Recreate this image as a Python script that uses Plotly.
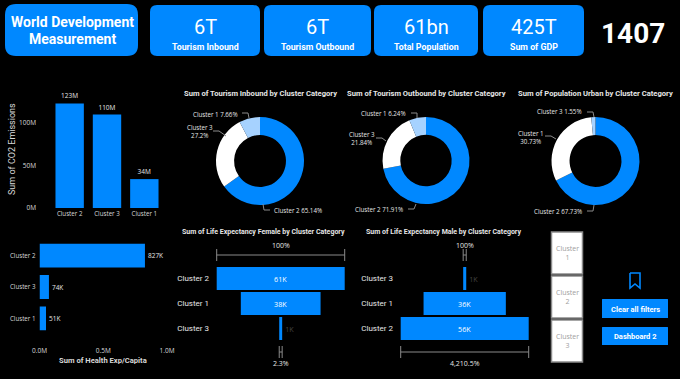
import plotly.graph_objects as go

W, H = 680, 379
BLUE = "#0088FF"
LIGHT = "#A6D2FF"
WHITE = "#FFFFFF"
FONT = "Roboto"
LBL = "Open Sans"

co2_cats = ["Cluster 2", "Cluster 3", "Cluster 1"]
co2_vals = [123, 110, 34]
co2_text = ["123M", "110M", "34M"]
health_cats = ["Cluster 2", "Cluster 3", "Cluster 1"]
health_vals = [0.827, 0.074, 0.051]
health_text = ["827K", "74K", "51K"]
inbound_cats = ["Cluster 2", "Cluster 3", "Cluster 1"]
inbound_vals = [65.14, 27.2, 7.66]
outbound_cats = ["Cluster 2", "Cluster 3", "Cluster 1"]
outbound_vals = [71.91, 21.84, 6.24]
urban_cats = ["Cluster 2", "Cluster 1", "Cluster 3"]
urban_vals = [67.73, 30.73, 1.55]
female_cats = ["Cluster 2", "Cluster 1", "Cluster 3"]
female_vals = [61, 38, 1.4]
female_text = ["61K", "38K", "1K"]
male_cats = ["Cluster 3", "Cluster 1", "Cluster 2"]
male_vals = [1.33, 36, 56]
male_text = ["1K", "36K", "56K"]
kpi_vals = ["6T", "6T", "61bn", "425T"]
kpi_names = ["Tourism Inbound", "Tourism Outbound", "Total Population", "Sum of GDP"]


def px(x):
    return x / W


def py(y):
    return 1 - y / H


def rrect(x0, y0, x1, y1, r, color):
    X0, X1, Y0, Y1 = px(x0), px(x1), py(y0), py(y1)
    rx, ry = r / W, r / H
    p = (f"M {X0+rx} {Y0} L {X1-rx} {Y0} Q {X1} {Y0} {X1} {Y0-ry} "
         f"L {X1} {Y1+ry} Q {X1} {Y1} {X1-rx} {Y1} L {X0+rx} {Y1} "
         f"Q {X0} {Y1} {X0} {Y1+ry} L {X0} {Y0-ry} Q {X0} {Y0} {X0+rx} {Y0} Z")
    return dict(type="path", path=p, xref="paper", yref="paper", fillcolor=color,
                line=dict(width=0), layer="below")


def poly(points, color="#8a8a8a", width=1):
    p = "M " + " L ".join(f"{px(a)} {py(b)}" for a, b in points)
    return dict(type="path", path=p, xref="paper", yref="paper",
                line=dict(color=color, width=width))


def txt(x, y, s, size=8, color="#E6E6E6", bold=False, font=FONT, anchor="center", rot=0):
    if bold:
        s = "<b>" + s.replace("<br>", "</b><br><b>") + "</b>"
    return dict(x=px(x), y=py(y), xref="paper", yref="paper", text=s, showarrow=False,
                xanchor=anchor, yanchor="middle", textangle=rot,
                font=dict(size=size, color=color, family=font))


def dom_x(a, b):
    return [px(a), px(b)]


def dom_y(top, bottom):
    return [py(bottom), py(top)]


fig = go.Figure()

# CO2 bars
fig.add_trace(go.Bar(x=co2_cats, y=co2_vals, text=co2_text, textposition="outside", cliponaxis=False,
                     marker_color=BLUE, xaxis="x", yaxis="y",
                     textfont=dict(size=6.5, color="#E6E6E6", family=LBL)))
# Health bars
fig.add_trace(go.Bar(y=health_cats, x=health_vals, text=health_text, orientation="h", textposition="outside",
                     cliponaxis=False, marker_color=BLUE, xaxis="x2", yaxis="y2",
                     textfont=dict(size=6.5, color="#E6E6E6", family=LBL)))
# Funnels
fig.add_trace(go.Funnel(y=female_cats, x=female_vals, text=female_text, textinfo="text", orientation="h",
                        marker_color=BLUE, connector=dict(visible=False), xaxis="x3", yaxis="y3",
                        textposition=["inside", "inside", "outside"], constraintext="none", cliponaxis=False,
                        insidetextfont=dict(size=7.2, color="#FFFFFF", family=LBL),
                        outsidetextfont=dict(size=7.2, color="#444444", family=LBL)))
fig.add_trace(go.Funnel(y=male_cats, x=male_vals, text=male_text, textinfo="text", orientation="h",
                        marker_color=BLUE, connector=dict(visible=False), xaxis="x4", yaxis="y4",
                        textposition=["outside", "inside", "inside"], constraintext="none", cliponaxis=False,
                        insidetextfont=dict(size=7.2, color="#FFFFFF", family=LBL),
                        outsidetextfont=dict(size=7.2, color="#444444", family=LBL)))


# Donuts
def donut(cats, vals, colors, x0, x1, y0, y1):
    fig.add_trace(go.Pie(labels=cats, values=vals, hole=0.59, sort=False, direction="clockwise", rotation=0,
                         marker=dict(colors=colors, line=dict(width=0)), textinfo="none",
                         domain=dict(x=dom_x(x0, x1), y=dom_y(y0, y1)), showlegend=False))


donut(inbound_cats, inbound_vals, [BLUE, WHITE, LIGHT], 216, 304, 117, 205)
donut(outbound_cats, outbound_vals, [BLUE, WHITE, LIGHT], 382.5, 469.5, 117, 204)
donut(urban_cats, urban_vals, [BLUE, WHITE, LIGHT], 551.5, 639.5, 117, 205)

shapes = []
ann = []

# Header cards
shapes.append(rrect(5, 4, 138, 56, 11, BLUE))
ann.append(txt(72, 22, "World Development", 14, WHITE, True))
ann.append(txt(72, 39, "Measurement", 14, WHITE, True))
cards = [(150, 260), (264, 371), (374, 478), (483, 584)]
for (a, b), v, n in zip(cards, kpi_vals, kpi_names):
    shapes.append(rrect(a, 5, b, 56, 7, BLUE))
    ann.append(txt((a + b) / 2, 27, v, 20, WHITE))
    ann.append(txt((a + b) / 2, 47, n, 8.8, WHITE, True))
ann.append(txt(633, 33, "1407", 28, WHITE, True))

# Chart titles
ann.append(txt(260, 94, "Sum of Tourism Inbound by Cluster Category", 7.6, "#E6E6E6", True))
ann.append(txt(426, 94, "Sum of Tourism Outbound by Cluster Category", 7.6, "#E6E6E6", True))
ann.append(txt(595, 94, "Sum of Population Urban by Cluster Category", 7.6, "#E6E6E6", True))
ann.append(txt(179.5, 232, "Sum of Life Expectancy Female by Cluster Category", 7, "#E6E6E6", True, anchor="left"))
ann.append(txt(363.5, 232, "Sum of Life Expectancy Male by Cluster Category", 7, "#E6E6E6", True, anchor="left"))
ann.append(txt(12, 149, "Sum of CO2 Emissions", 9, "#D8D8D8", False, rot=-90))
ann.append(txt(103, 360, "Sum of Health Exp/Capita", 7.6, "#D8D8D8", True))

# Donut labels
L = dict(size=6.2, font=LBL)
ann += [txt(240, 114, "Cluster 1 7.66%", anchor="right", **L),
        txt(200, 131, "Cluster 3<br>27.2%", **L),
        txt(272, 210, "Cluster 2 65.14%", anchor="left", **L),
        txt(408, 113, "Cluster 1 6.24%", anchor="right", **L),
        txt(362, 138, "Cluster 3<br>21.84%", **L),
        txt(405, 209, "Cluster 2 71.91%", anchor="right", **L),
        txt(584, 112, "Cluster 3 1.55%", anchor="right", **L),
        txt(531, 137, "Cluster 1<br>30.73%", **L),
        txt(584, 211, "Cluster 2 67.73%", anchor="right", **L)]
shapes += [poly([(242, 113), (248, 113), (249, 118)]),
           poly([(213, 131), (219, 131), (226, 136)]),
           poly([(263, 204), (264, 210), (270, 210)]),
           poly([(411, 113), (417, 113), (417, 118)]),
           poly([(376, 138), (382, 138), (386, 141)]),
           poly([(408, 209), (414, 209), (416, 204)]),
           poly([(587, 112), (593, 112), (594, 117)]),
           poly([(545, 136), (551, 136), (556, 139)]),
           poly([(587, 211), (593, 211), (594, 205)])]


# Funnel brackets, in each funnel's own x scale
def bracket(xref, v, y):
    c = "#8a8a8a"
    out = [dict(type="line", xref=xref, yref="paper", x0=-v / 2, x1=v / 2, y0=py(y), y1=py(y), line=dict(color=c, width=1))]
    for s in (-1, 1):
        out.append(dict(type="line", xref=xref, yref="paper", x0=s * v / 2, x1=s * v / 2,
                        y0=py(y - 6), y1=py(y + 6), line=dict(color=c, width=1)))
    return out


shapes += bracket("x3", female_vals[0], 255) + bracket("x3", female_vals[-1], 352)
shapes += bracket("x4", male_vals[0], 255) + bracket("x4", male_vals[-1], 352)
ann += [txt(281, 245, "100%", 7, font=LBL), txt(281, 363, "2.3%", 7, font=LBL),
        txt(465, 245, "100%", 7, font=LBL), txt(465, 363, "4,210.5%", 7, font=LBL)]

# Slicer tiles
for (top, bot), n in zip([(232, 274), (276, 318), (320, 362)], ["1", "2", "3"]):
    shapes.append(dict(type="rect", xref="paper", yref="paper", x0=px(551.5), x1=px(582.5), y0=py(top), y1=py(bot),
                       fillcolor=WHITE, line=dict(color="#8a8a8a", width=1.5), layer="below"))
    ann.append(txt(567, (top + bot) / 2, "Cluster<br>" + n, 7, "#A0A0A0", font=LBL))

# Bookmark icon and buttons
shapes.append(poly([(630, 273), (640, 273), (640, 288), (635, 284), (630, 288), (630, 273)], BLUE, 1.6))
shapes.append(rrect(602, 299, 668, 318, 0.5, BLUE))
shapes.append(rrect(602, 327, 668, 345, 0.5, BLUE))
ann.append(txt(635, 309, "Clear all filters", 7.5, WHITE, True))
ann.append(txt(635, 336.5, "Dashboard 2", 7.5, WHITE, True))

tick = dict(size=6.5, color="#D8D8D8", family=LBL)
cat_tick = dict(size=6.2, color="#D8D8D8", family=LBL)
fem_half = 68.7 / (128 / female_vals[0])
male_half = 68.7 / (128 / male_vals[-1])
hidden_x = dict(showgrid=False, zeroline=False, showticklabels=False, ticks="", showline=False)
cat_y = dict(showgrid=False, zeroline=False, showline=False, ticks="", ticklen=0, ticklabelstandoff=2,
             tickfont=dict(size=8, color="#E6E6E6", family=FONT))

fig.update_layout(
    template="none",
    width=W, height=H, margin=dict(l=0, r=0, t=0, b=0), autosize=False,
    paper_bgcolor="#000000", plot_bgcolor="#000000", showlegend=False,
    bargap=0.24, funnelgap=0.08, hovermode=False,
    shapes=shapes, annotations=ann,
    xaxis=dict(domain=dom_x(51, 163), showgrid=False, zeroline=False, showline=False, ticks="", tickfont=cat_tick,
               ticklabelstandoff=1, anchor="y"),
    yaxis=dict(domain=dom_y(100, 208), range=[0, 108 / 0.85], tickvals=[0, 50, 100], ticktext=["0M", "50M", "100M"],
               showgrid=False, zeroline=False, tickfont=tick, anchor="x", ticks="", ticklabelstandoff=14),
    xaxis2=dict(domain=dom_x(39.5, 167), range=[0, 1.0], tickvals=[0, 0.5, 1.0], ticktext=["0.0M", "0.5M", "1.0M"],
                showgrid=False, zeroline=False, tickfont=tick, anchor="y2", ticks="", ticklabelstandoff=11),
    yaxis2=dict(domain=dom_y(240, 334), autorange="reversed", showgrid=False, zeroline=False, tickfont=cat_tick,
                anchor="x2", ticks="", ticklabelstandoff=3),
    xaxis3=dict(domain=dom_x(212, 349.4), range=[-fem_half, fem_half], anchor="y3", **hidden_x),
    yaxis3=dict(domain=dom_y(266, 341), range=[2.5, -0.5], anchor="x3", **cat_y),
    xaxis4=dict(domain=dom_x(396, 533.4), range=[-male_half, male_half], anchor="y4", **hidden_x),
    yaxis4=dict(domain=dom_y(266, 341), range=[2.5, -0.5], anchor="x4", **cat_y),
)
fig.write_html("out.html", config=dict(displayModeBar=False),
               post_script="document.body.style.margin='0';document.body.style.overflow='hidden';document.body.style.background='#000';")
